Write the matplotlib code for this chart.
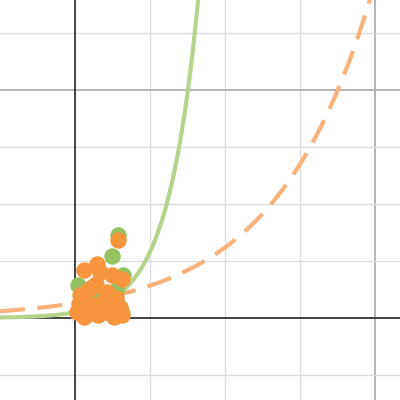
import numpy as np
import matplotlib
matplotlib.use("Agg")
import matplotlib.pyplot as plt

green_x = [0.57, 0.49, 0.64, 0.04, 0.08, 0.60, 0.35, 0.15, 0.45, 0.62, 0.25, 0.55]
green_y = [1.46, 1.09, 0.75, 0.58, 0.20, 0.20, 0.10, 0.05, 0.35, 0.08, 0.40, 0.50]
orange_x = [0.57, 0.29, 0.12, 0.17, 0.06, 0.49, 0.63, 0.33, 0.02, 0.10, 0.20, 0.30, 0.40,
            0.50, 0.58, 0.62, 0.05, 0.15, 0.25, 0.35, 0.45, 0.55, 0.60, 0.22, 0.42, 0.12,
            0.52, 0.38, 0.28, 0.08, 0.47, 0.18]
orange_y = [1.37, 0.95, 0.84, 0.49, 0.40, 0.75, 0.68, 0.80, 0.10, 0.12, 0.08, 0.05, 0.10,
            0.06, 0.12, 0.05, 0.25, 0.30, 0.22, 0.15, 0.28, 0.35, 0.18, 0.55, 0.45, 0.02,
            0.02, 0.30, 0.60, 0.18, 0.20, 0.15]
green_a, green_b = 0.1, 2.45
orange_a, orange_b = 0.26, 0.78

fig = plt.figure(figsize=(4, 4), dpi=100)
ax = fig.add_axes([0, 0, 1, 1])
ax.set_xlim(-1, 325/75)
ax.set_ylim(-82/57, 318/57)
for v in [1, 2, 3]:
    ax.axvline(v, color="#dcdcdc", lw=1, zorder=0)
ax.axvline(4, color="#a8a8a8", lw=1.2, zorder=0)
for h in [-1, 1, 2, 3, 5]:
    ax.axhline(h, color="#dcdcdc", lw=1, zorder=0)
ax.axhline(4, color="#a8a8a8", lw=1.2, zorder=0)
ax.axhline(0, color="#222222", lw=1.2, zorder=1)
ax.axvline(0, color="#222222", lw=1.2, zorder=1)

xs = np.linspace(-1, 4.4, 600)
ax.plot(xs, green_a*np.exp(green_b*xs), color="#b5d38b", lw=3, zorder=2)
ax.plot(xs, orange_a*np.exp(orange_b*xs), color="#f9b17a", lw=3, dashes=(6, 3), zorder=2)
ax.scatter(green_x, green_y, s=140, color="#96c160", zorder=3, lw=0)
ax.scatter(orange_x, orange_y, s=140, color="#f7953f", zorder=4, lw=0)
ax.axis("off")
fig.savefig("out.png", dpi=100)
